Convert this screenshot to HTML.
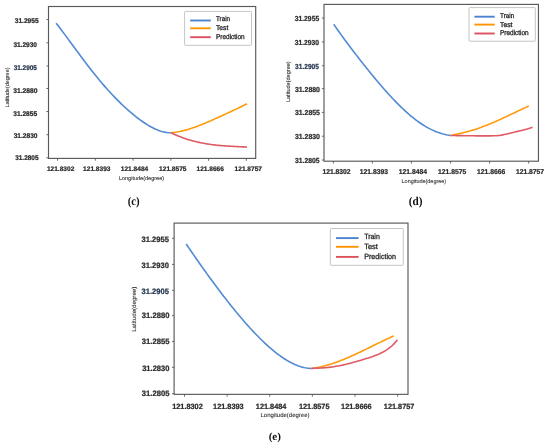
<!DOCTYPE html>
<html><head><meta charset="utf-8"><title>Trajectory prediction plots</title>
<style>
html,body{margin:0;padding:0;background:#fff;}
body{width:550px;height:446px;overflow:hidden;}
svg{display:block;}
svg text{font-family:"Liberation Sans", Arial, sans-serif;text-rendering:geometricPrecision;}
</style></head>
<body>
<svg width="550" height="446" viewBox="0 0 550 446">
<rect width="550" height="446" fill="#fff"/>
<rect x="48.5" y="6.5" width="207.20" height="151.90" fill="none" stroke="#595959" stroke-width="1.15"/>
<line x1="46.40" y1="19.5" x2="48.5" y2="19.5" stroke="#595959" stroke-width="0.9"/>
<line x1="46.40" y1="42.8" x2="48.5" y2="42.8" stroke="#595959" stroke-width="0.9"/>
<line x1="46.40" y1="66.0" x2="48.5" y2="66.0" stroke="#595959" stroke-width="0.9"/>
<line x1="46.40" y1="88.5" x2="48.5" y2="88.5" stroke="#595959" stroke-width="0.9"/>
<line x1="46.40" y1="111.5" x2="48.5" y2="111.5" stroke="#595959" stroke-width="0.9"/>
<line x1="46.40" y1="134.7" x2="48.5" y2="134.7" stroke="#595959" stroke-width="0.9"/>
<line x1="46.40" y1="157.8" x2="48.5" y2="157.8" stroke="#595959" stroke-width="0.9"/>
<line x1="57.60" y1="158.4" x2="57.60" y2="160.70" stroke="#595959" stroke-width="0.9"/>
<line x1="95.35" y1="158.4" x2="95.35" y2="160.70" stroke="#595959" stroke-width="0.9"/>
<line x1="133.10" y1="158.4" x2="133.10" y2="160.70" stroke="#595959" stroke-width="0.9"/>
<line x1="170.85" y1="158.4" x2="170.85" y2="160.70" stroke="#595959" stroke-width="0.9"/>
<line x1="208.60" y1="158.4" x2="208.60" y2="160.70" stroke="#595959" stroke-width="0.9"/>
<line x1="246.35" y1="158.4" x2="246.35" y2="160.70" stroke="#595959" stroke-width="0.9"/>
<text x="14.70" y="23.23" font-size="6.8" font-weight="bold" fill="#2b2b2b" stroke="#2b2b2b" stroke-width="0.24" textLength="24.00" lengthAdjust="spacingAndGlyphs">31.2955</text>
<text x="13.40" y="46.93" font-size="6.8" font-weight="bold" fill="#2b2b2b" stroke="#2b2b2b" stroke-width="0.24" textLength="23.50" lengthAdjust="spacingAndGlyphs">31.2930</text>
<text x="13.70" y="69.63" font-size="6.8" font-weight="bold" fill="#24364f" stroke="#24364f" stroke-width="0.24" textLength="23.20" lengthAdjust="spacingAndGlyphs">31.2905</text>
<text x="13.30" y="92.93" font-size="6.8" font-weight="bold" fill="#2b2b2b" stroke="#2b2b2b" stroke-width="0.24" textLength="24.20" lengthAdjust="spacingAndGlyphs">31.2880</text>
<text x="13.30" y="115.53" font-size="6.8" font-weight="bold" fill="#2b2b2b" stroke="#2b2b2b" stroke-width="0.24" textLength="23.80" lengthAdjust="spacingAndGlyphs">31.2855</text>
<text x="13.70" y="138.03" font-size="6.8" font-weight="bold" fill="#2b2b2b" stroke="#2b2b2b" stroke-width="0.24" textLength="23.80" lengthAdjust="spacingAndGlyphs">31.2830</text>
<text x="15.20" y="160.03" font-size="6.8" font-weight="bold" fill="#2b2b2b" stroke="#2b2b2b" stroke-width="0.24" textLength="23.30" lengthAdjust="spacingAndGlyphs">31.2805</text>
<text x="46.90" y="171.26" font-size="6.6" font-weight="bold" fill="#2b2b2b" stroke="#2b2b2b" stroke-width="0.24" textLength="27.4" lengthAdjust="spacingAndGlyphs">121.8302</text>
<text x="83.10" y="171.26" font-size="6.6" font-weight="bold" fill="#2b2b2b" stroke="#2b2b2b" stroke-width="0.24" textLength="27.4" lengthAdjust="spacingAndGlyphs">121.8393</text>
<text x="120.80" y="171.26" font-size="6.6" font-weight="bold" fill="#2b2b2b" stroke="#2b2b2b" stroke-width="0.24" textLength="27.4" lengthAdjust="spacingAndGlyphs">121.8484</text>
<text x="159.10" y="171.26" font-size="6.6" font-weight="bold" fill="#2b2b2b" stroke="#2b2b2b" stroke-width="0.24" textLength="27.4" lengthAdjust="spacingAndGlyphs">121.8575</text>
<text x="196.50" y="171.26" font-size="6.6" font-weight="bold" fill="#2b2b2b" stroke="#2b2b2b" stroke-width="0.24" textLength="27.4" lengthAdjust="spacingAndGlyphs">121.8666</text>
<text x="234.60" y="171.26" font-size="6.6" font-weight="bold" fill="#2b2b2b" stroke="#2b2b2b" stroke-width="0.24" textLength="27.4" lengthAdjust="spacingAndGlyphs">121.8757</text>
<text x="118.9" y="179.9" font-size="5.4" fill="#333" stroke="#333" stroke-width="0.1" textLength="45.20" lengthAdjust="spacingAndGlyphs">Longitude(degree)</text>
<text x="0" y="0" transform="translate(8.8,107.5) rotate(-90)" font-size="5.4" fill="#333" stroke="#333" stroke-width="0.1" textLength="40.00" lengthAdjust="spacingAndGlyphs">Latitude(degree)</text>
<path d="M56.10,23.25 L57.59,25.12 L59.07,27.02 L60.56,28.95 L62.05,30.90 L63.54,32.88 L65.02,34.87 L66.51,36.87 L68.00,38.89 L69.48,40.91 L70.97,42.94 L72.46,44.97 L73.94,47.00 L75.43,49.03 L76.92,51.06 L78.41,53.07 L79.89,55.08 L81.38,57.09 L82.87,59.07 L84.35,61.05 L85.84,63.01 L87.33,64.96 L88.81,66.89 L90.30,68.81 L91.79,70.70 L93.28,72.58 L94.76,74.44 L96.25,76.28 L97.74,78.09 L99.22,79.89 L100.71,81.66 L102.20,83.41 L103.68,85.14 L105.17,86.85 L106.66,88.54 L108.15,90.20 L109.63,91.83 L111.12,93.45 L112.61,95.04 L114.09,96.61 L115.58,98.15 L117.07,99.67 L118.55,101.16 L120.04,102.63 L121.53,104.08 L123.02,105.50 L124.50,106.89 L125.99,108.26 L127.48,109.61 L128.96,110.93 L130.45,112.22 L131.94,113.48 L133.42,114.72 L134.91,115.92 L136.40,117.10 L137.89,118.25 L139.37,119.37 L140.86,120.45 L142.35,121.50 L143.83,122.52 L145.32,123.50 L146.81,124.45 L148.29,125.35 L149.78,126.21 L151.27,127.04 L152.76,127.81 L154.24,128.54 L155.73,129.23 L157.22,129.86 L158.70,130.43 L160.19,130.95 L161.68,131.41 L163.16,131.80 L164.65,132.13 L166.14,132.39 L167.63,132.57 L169.11,132.68 L170.60,132.70" fill="none" stroke="#528ad3" stroke-width="1.6" stroke-linejoin="round"/>
<path d="M170.60,132.70 L172.10,132.60 L173.60,132.46 L175.09,132.28 L176.59,132.07 L178.09,131.82 L179.59,131.54 L181.09,131.22 L182.58,130.88 L184.08,130.51 L185.58,130.11 L187.08,129.69 L188.58,129.24 L190.07,128.77 L191.57,128.29 L193.07,127.78 L194.57,127.25 L196.07,126.71 L197.56,126.15 L199.06,125.58 L200.56,125.00 L202.06,124.40 L203.56,123.79 L205.05,123.17 L206.55,122.55 L208.05,121.91 L209.55,121.26 L211.05,120.61 L212.55,119.95 L214.04,119.29 L215.54,118.62 L217.04,117.95 L218.54,117.27 L220.04,116.59 L221.53,115.90 L223.03,115.21 L224.53,114.52 L226.03,113.83 L227.53,113.13 L229.02,112.43 L230.52,111.73 L232.02,111.02 L233.52,110.31 L235.02,109.60 L236.51,108.89 L238.01,108.18 L239.51,107.46 L241.01,106.73 L242.51,106.01 L244.00,105.28 L245.50,104.54 L247.00,103.80" fill="none" stroke="#ff9a0a" stroke-width="1.6" stroke-linejoin="round"/>
<path d="M170.60,132.60 L172.10,133.30 L173.60,133.99 L175.09,134.65 L176.59,135.29 L178.09,135.90 L179.59,136.50 L181.09,137.08 L182.58,137.63 L184.08,138.17 L185.58,138.68 L187.08,139.17 L188.58,139.64 L190.07,140.10 L191.57,140.53 L193.07,140.94 L194.57,141.33 L196.07,141.71 L197.56,142.07 L199.06,142.40 L200.56,142.72 L202.06,143.03 L203.56,143.31 L205.05,143.58 L206.55,143.84 L208.05,144.08 L209.55,144.30 L211.05,144.51 L212.55,144.71 L214.04,144.89 L215.54,145.06 L217.04,145.22 L218.54,145.37 L220.04,145.50 L221.53,145.63 L223.03,145.75 L224.53,145.86 L226.03,145.96 L227.53,146.06 L229.02,146.15 L230.52,146.23 L232.02,146.31 L233.52,146.39 L235.02,146.46 L236.51,146.54 L238.01,146.61 L239.51,146.68 L241.01,146.76 L242.51,146.84 L244.00,146.92 L245.50,147.01 L247.00,147.10" fill="none" stroke="#e05a64" stroke-width="1.6" stroke-linejoin="round"/>
<rect x="184.6" y="11.4" width="66.90" height="33.90" rx="0.8" fill="#fff" stroke="#bdbdbd" stroke-width="0.9"/>
<line x1="190.2" y1="20.5" x2="210.8" y2="20.5" stroke="#4b83cd" stroke-width="1.9"/>
<text x="216.0" y="20.70" font-size="7.0" fill="#1e1e1e" stroke="#1e1e1e" stroke-width="0.28" textLength="14.0" lengthAdjust="spacingAndGlyphs">Train</text>
<line x1="190.2" y1="28.3" x2="210.8" y2="28.3" stroke="#ff9500" stroke-width="1.9"/>
<text x="216.0" y="29.80" font-size="7.0" fill="#1e1e1e" stroke="#1e1e1e" stroke-width="0.28" textLength="12.3" lengthAdjust="spacingAndGlyphs">Test</text>
<line x1="190.2" y1="37.2" x2="210.8" y2="37.2" stroke="#dc515d" stroke-width="1.9"/>
<text x="216.0" y="38.90" font-size="7.0" fill="#1e1e1e" stroke="#1e1e1e" stroke-width="0.28" textLength="28.7" lengthAdjust="spacingAndGlyphs">Prediction</text>
<text x="127.7" y="205.1" style='font-family:"Liberation Serif", "DejaVu Serif", serif' font-size="12.0" font-weight="bold" fill="#111" textLength="12.00" lengthAdjust="spacingAndGlyphs">(c)</text>
<rect x="324.0" y="4.4" width="214.45" height="156.80" fill="none" stroke="#595959" stroke-width="1.15"/>
<line x1="321.90" y1="18.1" x2="324.0" y2="18.1" stroke="#595959" stroke-width="0.9"/>
<line x1="321.90" y1="41.9" x2="324.0" y2="41.9" stroke="#595959" stroke-width="0.9"/>
<line x1="321.90" y1="65.8" x2="324.0" y2="65.8" stroke="#595959" stroke-width="0.9"/>
<line x1="321.90" y1="88.6" x2="324.0" y2="88.6" stroke="#595959" stroke-width="0.9"/>
<line x1="321.90" y1="112.4" x2="324.0" y2="112.4" stroke="#595959" stroke-width="0.9"/>
<line x1="321.90" y1="136.2" x2="324.0" y2="136.2" stroke="#595959" stroke-width="0.9"/>
<line x1="321.90" y1="160.0" x2="324.0" y2="160.0" stroke="#595959" stroke-width="0.9"/>
<line x1="333.30" y1="161.2" x2="333.30" y2="163.50" stroke="#595959" stroke-width="0.9"/>
<line x1="372.38" y1="161.2" x2="372.38" y2="163.50" stroke="#595959" stroke-width="0.9"/>
<line x1="411.46" y1="161.2" x2="411.46" y2="163.50" stroke="#595959" stroke-width="0.9"/>
<line x1="450.54" y1="161.2" x2="450.54" y2="163.50" stroke="#595959" stroke-width="0.9"/>
<line x1="489.62" y1="161.2" x2="489.62" y2="163.50" stroke="#595959" stroke-width="0.9"/>
<line x1="528.70" y1="161.2" x2="528.70" y2="163.50" stroke="#595959" stroke-width="0.9"/>
<text x="294.70" y="21.41" font-size="7.3" font-weight="bold" fill="#2b2b2b" stroke="#2b2b2b" stroke-width="0.24" textLength="24.50" lengthAdjust="spacingAndGlyphs">31.2955</text>
<text x="294.70" y="45.21" font-size="7.3" font-weight="bold" fill="#2b2b2b" stroke="#2b2b2b" stroke-width="0.24" textLength="24.20" lengthAdjust="spacingAndGlyphs">31.2930</text>
<text x="295.10" y="68.91" font-size="7.3" font-weight="bold" fill="#24364f" stroke="#24364f" stroke-width="0.24" textLength="23.80" lengthAdjust="spacingAndGlyphs">31.2905</text>
<text x="294.90" y="91.51" font-size="7.3" font-weight="bold" fill="#2b2b2b" stroke="#2b2b2b" stroke-width="0.24" textLength="25.10" lengthAdjust="spacingAndGlyphs">31.2880</text>
<text x="294.90" y="115.21" font-size="7.3" font-weight="bold" fill="#2b2b2b" stroke="#2b2b2b" stroke-width="0.24" textLength="25.10" lengthAdjust="spacingAndGlyphs">31.2855</text>
<text x="294.90" y="139.31" font-size="7.3" font-weight="bold" fill="#2b2b2b" stroke="#2b2b2b" stroke-width="0.24" textLength="25.10" lengthAdjust="spacingAndGlyphs">31.2830</text>
<text x="294.90" y="163.01" font-size="7.3" font-weight="bold" fill="#2b2b2b" stroke="#2b2b2b" stroke-width="0.24" textLength="24.70" lengthAdjust="spacingAndGlyphs">31.2805</text>
<text x="322.40" y="174.14" font-size="7.1" font-weight="bold" fill="#2b2b2b" stroke="#2b2b2b" stroke-width="0.24" textLength="28.2" lengthAdjust="spacingAndGlyphs">121.8302</text>
<text x="359.80" y="174.14" font-size="7.1" font-weight="bold" fill="#2b2b2b" stroke="#2b2b2b" stroke-width="0.24" textLength="28.2" lengthAdjust="spacingAndGlyphs">121.8393</text>
<text x="398.80" y="174.14" font-size="7.1" font-weight="bold" fill="#2b2b2b" stroke="#2b2b2b" stroke-width="0.24" textLength="28.2" lengthAdjust="spacingAndGlyphs">121.8484</text>
<text x="438.10" y="174.14" font-size="7.1" font-weight="bold" fill="#2b2b2b" stroke="#2b2b2b" stroke-width="0.24" textLength="28.2" lengthAdjust="spacingAndGlyphs">121.8575</text>
<text x="477.00" y="174.14" font-size="7.1" font-weight="bold" fill="#2b2b2b" stroke="#2b2b2b" stroke-width="0.24" textLength="28.2" lengthAdjust="spacingAndGlyphs">121.8666</text>
<text x="515.90" y="174.14" font-size="7.1" font-weight="bold" fill="#2b2b2b" stroke="#2b2b2b" stroke-width="0.24" textLength="28.2" lengthAdjust="spacingAndGlyphs">121.8757</text>
<text x="401.6" y="182.9" font-size="5.5" fill="#333" stroke="#333" stroke-width="0.1" textLength="44.50" lengthAdjust="spacingAndGlyphs">Longitude(degree)</text>
<text x="0" y="0" transform="translate(290.1,102.1) rotate(-90)" font-size="5.5" fill="#333" stroke="#333" stroke-width="0.1" textLength="40.80" lengthAdjust="spacingAndGlyphs">Latitude(degree)</text>
<path d="M333.70,24.20 L335.20,26.38 L336.69,28.54 L338.19,30.67 L339.69,32.78 L341.19,34.87 L342.68,36.94 L344.18,38.99 L345.68,41.03 L347.18,43.05 L348.67,45.05 L350.17,47.04 L351.67,49.02 L353.17,50.98 L354.66,52.94 L356.16,54.88 L357.66,56.81 L359.16,58.73 L360.65,60.65 L362.15,62.55 L363.65,64.44 L365.15,66.32 L366.64,68.19 L368.14,70.04 L369.64,71.89 L371.14,73.73 L372.63,75.55 L374.13,77.37 L375.63,79.16 L377.13,80.95 L378.62,82.72 L380.12,84.48 L381.62,86.22 L383.12,87.95 L384.61,89.66 L386.11,91.35 L387.61,93.03 L389.11,94.68 L390.60,96.31 L392.10,97.93 L393.60,99.52 L395.09,101.08 L396.59,102.63 L398.09,104.14 L399.59,105.64 L401.08,107.10 L402.58,108.54 L404.08,109.95 L405.58,111.32 L407.07,112.67 L408.57,113.99 L410.07,115.27 L411.57,116.52 L413.06,117.74 L414.56,118.92 L416.06,120.06 L417.56,121.17 L419.05,122.24 L420.55,123.27 L422.05,124.27 L423.55,125.22 L425.04,126.14 L426.54,127.01 L428.04,127.85 L429.54,128.64 L431.03,129.40 L432.53,130.11 L434.03,130.78 L435.53,131.41 L437.02,132.00 L438.52,132.55 L440.02,133.05 L441.52,133.52 L443.01,133.95 L444.51,134.33 L446.01,134.68 L447.51,134.99 L449.00,135.26 L450.50,135.50" fill="none" stroke="#528ad3" stroke-width="1.6" stroke-linejoin="round"/>
<path d="M450.50,135.50 L451.98,135.21 L453.45,134.92 L454.93,134.62 L456.41,134.30 L457.89,133.98 L459.36,133.65 L460.84,133.30 L462.32,132.95 L463.80,132.58 L465.27,132.20 L466.75,131.81 L468.23,131.41 L469.71,130.99 L471.18,130.56 L472.66,130.11 L474.14,129.66 L475.62,129.18 L477.09,128.70 L478.57,128.20 L480.05,127.69 L481.52,127.16 L483.00,126.62 L484.48,126.07 L485.96,125.50 L487.43,124.92 L488.91,124.33 L490.39,123.73 L491.87,123.11 L493.34,122.49 L494.82,121.85 L496.30,121.21 L497.78,120.55 L499.25,119.89 L500.73,119.21 L502.21,118.53 L503.68,117.85 L505.16,117.15 L506.64,116.45 L508.12,115.75 L509.59,115.05 L511.07,114.34 L512.55,113.63 L514.03,112.92 L515.50,112.22 L516.98,111.51 L518.46,110.81 L519.94,110.11 L521.41,109.42 L522.89,108.74 L524.37,108.06 L525.85,107.39 L527.32,106.74 L528.80,106.10" fill="none" stroke="#ff9a0a" stroke-width="1.6" stroke-linejoin="round"/>
<path d="M450.50,135.50 L451.99,135.52 L453.49,135.54 L454.98,135.56 L456.47,135.58 L457.96,135.60 L459.46,135.62 L460.95,135.64 L462.44,135.66 L463.93,135.68 L465.43,135.70 L466.92,135.71 L468.41,135.73 L469.91,135.75 L471.40,135.77 L472.89,135.79 L474.38,135.81 L475.88,135.83 L477.37,135.84 L478.86,135.86 L480.35,135.88 L481.85,135.89 L483.34,135.90 L484.83,135.90 L486.33,135.90 L487.82,135.89 L489.31,135.87 L490.80,135.85 L492.30,135.82 L493.79,135.78 L495.28,135.74 L496.77,135.66 L498.27,135.53 L499.76,135.38 L501.25,135.17 L502.75,134.88 L504.24,134.56 L505.73,134.24 L507.22,133.91 L508.72,133.55 L510.21,133.19 L511.70,132.81 L513.19,132.44 L514.69,132.08 L516.18,131.72 L517.67,131.37 L519.17,131.03 L520.66,130.68 L522.15,130.33 L523.64,129.96 L525.14,129.56 L526.63,129.15 L528.12,128.71 L529.61,128.26 L531.11,127.79 L532.60,127.30" fill="none" stroke="#e05a64" stroke-width="1.6" stroke-linejoin="round"/>
<rect x="469.0" y="7.6" width="66.30" height="33.60" rx="0.8" fill="#fff" stroke="#bdbdbd" stroke-width="0.9"/>
<line x1="474.4" y1="16.7" x2="494.7" y2="16.7" stroke="#4b83cd" stroke-width="1.9"/>
<text x="500.0" y="17.50" font-size="7.1" fill="#1e1e1e" stroke="#1e1e1e" stroke-width="0.28" textLength="14.2" lengthAdjust="spacingAndGlyphs">Train</text>
<line x1="474.4" y1="24.6" x2="494.7" y2="24.6" stroke="#ff9500" stroke-width="1.9"/>
<text x="500.0" y="26.50" font-size="7.1" fill="#1e1e1e" stroke="#1e1e1e" stroke-width="0.28" textLength="12.4" lengthAdjust="spacingAndGlyphs">Test</text>
<line x1="474.4" y1="33.5" x2="494.7" y2="33.5" stroke="#dc515d" stroke-width="1.9"/>
<text x="500.0" y="35.30" font-size="7.1" fill="#1e1e1e" stroke="#1e1e1e" stroke-width="0.28" textLength="28.7" lengthAdjust="spacingAndGlyphs">Prediction</text>
<text x="408.8" y="205.3" style='font-family:"Liberation Serif", "DejaVu Serif", serif' font-size="12.0" font-weight="bold" fill="#111" textLength="13.70" lengthAdjust="spacingAndGlyphs">(d)</text>
<rect x="174.1" y="223.1" width="233.90" height="171.25" fill="none" stroke="#595959" stroke-width="1.15"/>
<line x1="172.00" y1="238.3" x2="174.1" y2="238.3" stroke="#595959" stroke-width="0.9"/>
<line x1="172.00" y1="264.4" x2="174.1" y2="264.4" stroke="#595959" stroke-width="0.9"/>
<line x1="172.00" y1="290.3" x2="174.1" y2="290.3" stroke="#595959" stroke-width="0.9"/>
<line x1="172.00" y1="315.7" x2="174.1" y2="315.7" stroke="#595959" stroke-width="0.9"/>
<line x1="172.00" y1="341.5" x2="174.1" y2="341.5" stroke="#595959" stroke-width="0.9"/>
<line x1="172.00" y1="367.3" x2="174.1" y2="367.3" stroke="#595959" stroke-width="0.9"/>
<line x1="172.00" y1="393.7" x2="174.1" y2="393.7" stroke="#595959" stroke-width="0.9"/>
<line x1="184.50" y1="394.35" x2="184.50" y2="396.65" stroke="#595959" stroke-width="0.9"/>
<line x1="227.12" y1="394.35" x2="227.12" y2="396.65" stroke="#595959" stroke-width="0.9"/>
<line x1="269.74" y1="394.35" x2="269.74" y2="396.65" stroke="#595959" stroke-width="0.9"/>
<line x1="312.36" y1="394.35" x2="312.36" y2="396.65" stroke="#595959" stroke-width="0.9"/>
<line x1="354.98" y1="394.35" x2="354.98" y2="396.65" stroke="#595959" stroke-width="0.9"/>
<line x1="397.60" y1="394.35" x2="397.60" y2="396.65" stroke="#595959" stroke-width="0.9"/>
<text x="141.60" y="241.69" font-size="7.8" font-weight="bold" fill="#2b2b2b" stroke="#2b2b2b" stroke-width="0.24" textLength="27.30" lengthAdjust="spacingAndGlyphs">31.2955</text>
<text x="141.60" y="268.29" font-size="7.8" font-weight="bold" fill="#2b2b2b" stroke="#2b2b2b" stroke-width="0.24" textLength="27.30" lengthAdjust="spacingAndGlyphs">31.2930</text>
<text x="141.60" y="294.19" font-size="7.8" font-weight="bold" fill="#24364f" stroke="#24364f" stroke-width="0.24" textLength="27.30" lengthAdjust="spacingAndGlyphs">31.2905</text>
<text x="141.80" y="317.99" font-size="7.8" font-weight="bold" fill="#2b2b2b" stroke="#2b2b2b" stroke-width="0.24" textLength="27.60" lengthAdjust="spacingAndGlyphs">31.2880</text>
<text x="141.80" y="344.29" font-size="7.8" font-weight="bold" fill="#2b2b2b" stroke="#2b2b2b" stroke-width="0.24" textLength="27.60" lengthAdjust="spacingAndGlyphs">31.2855</text>
<text x="142.20" y="370.89" font-size="7.8" font-weight="bold" fill="#2b2b2b" stroke="#2b2b2b" stroke-width="0.24" textLength="27.20" lengthAdjust="spacingAndGlyphs">31.2830</text>
<text x="141.80" y="395.79" font-size="7.8" font-weight="bold" fill="#2b2b2b" stroke="#2b2b2b" stroke-width="0.24" textLength="27.60" lengthAdjust="spacingAndGlyphs">31.2805</text>
<text x="172.20" y="408.62" font-size="7.6" font-weight="bold" fill="#2b2b2b" stroke="#2b2b2b" stroke-width="0.24" textLength="30.6" lengthAdjust="spacingAndGlyphs">121.8302</text>
<text x="213.10" y="408.62" font-size="7.6" font-weight="bold" fill="#2b2b2b" stroke="#2b2b2b" stroke-width="0.24" textLength="30.6" lengthAdjust="spacingAndGlyphs">121.8393</text>
<text x="255.80" y="408.62" font-size="7.6" font-weight="bold" fill="#2b2b2b" stroke="#2b2b2b" stroke-width="0.24" textLength="30.6" lengthAdjust="spacingAndGlyphs">121.8484</text>
<text x="298.90" y="408.62" font-size="7.6" font-weight="bold" fill="#2b2b2b" stroke="#2b2b2b" stroke-width="0.24" textLength="30.6" lengthAdjust="spacingAndGlyphs">121.8575</text>
<text x="341.10" y="408.62" font-size="7.6" font-weight="bold" fill="#2b2b2b" stroke="#2b2b2b" stroke-width="0.24" textLength="30.6" lengthAdjust="spacingAndGlyphs">121.8666</text>
<text x="383.80" y="408.62" font-size="7.6" font-weight="bold" fill="#2b2b2b" stroke="#2b2b2b" stroke-width="0.24" textLength="30.6" lengthAdjust="spacingAndGlyphs">121.8757</text>
<text x="260.5" y="416.5" font-size="5.9" fill="#333" stroke="#333" stroke-width="0.1" textLength="49.00" lengthAdjust="spacingAndGlyphs">Longitude(degree)</text>
<text x="0" y="0" transform="translate(135.6,331.8) rotate(-90)" font-size="5.9" fill="#333" stroke="#333" stroke-width="0.1" textLength="45.10" lengthAdjust="spacingAndGlyphs">Latitude(degree)</text>
<path d="M186.20,244.00 L187.69,246.20 L189.18,248.39 L190.66,250.57 L192.15,252.74 L193.64,254.90 L195.13,257.05 L196.62,259.19 L198.10,261.32 L199.59,263.45 L201.08,265.56 L202.57,267.66 L204.06,269.75 L205.55,271.83 L207.03,273.90 L208.52,275.95 L210.01,278.00 L211.50,280.04 L212.99,282.06 L214.47,284.07 L215.96,286.07 L217.45,288.06 L218.94,290.04 L220.43,292.00 L221.91,293.96 L223.40,295.89 L224.89,297.82 L226.38,299.73 L227.87,301.63 L229.35,303.51 L230.84,305.38 L232.33,307.24 L233.82,309.07 L235.31,310.90 L236.80,312.70 L238.28,314.50 L239.77,316.27 L241.26,318.03 L242.75,319.76 L244.24,321.48 L245.72,323.19 L247.21,324.87 L248.70,326.53 L250.19,328.17 L251.68,329.79 L253.16,331.39 L254.65,332.97 L256.14,334.53 L257.63,336.06 L259.12,337.56 L260.60,339.05 L262.09,340.50 L263.58,341.93 L265.07,343.34 L266.56,344.71 L268.05,346.06 L269.53,347.38 L271.02,348.67 L272.51,349.93 L274.00,351.15 L275.49,352.35 L276.97,353.51 L278.46,354.63 L279.95,355.72 L281.44,356.78 L282.93,357.79 L284.41,358.77 L285.90,359.71 L287.39,360.61 L288.88,361.46 L290.37,362.28 L291.85,363.05 L293.34,363.77 L294.83,364.45 L296.32,365.08 L297.81,365.66 L299.30,366.20 L300.78,366.68 L302.27,367.11 L303.76,367.48 L305.25,367.80 L306.74,368.07 L308.22,368.27 L309.71,368.42 L311.20,368.50" fill="none" stroke="#528ad3" stroke-width="1.6" stroke-linejoin="round"/>
<path d="M311.20,368.50 L312.67,368.31 L314.15,368.09 L315.62,367.85 L317.09,367.58 L318.57,367.30 L320.04,366.98 L321.51,366.65 L322.99,366.29 L324.46,365.92 L325.93,365.52 L327.41,365.10 L328.88,364.67 L330.35,364.21 L331.82,363.74 L333.30,363.25 L334.77,362.75 L336.24,362.22 L337.72,361.69 L339.19,361.14 L340.66,360.57 L342.14,359.99 L343.61,359.40 L345.08,358.79 L346.56,358.17 L348.03,357.54 L349.50,356.91 L350.98,356.26 L352.45,355.60 L353.92,354.93 L355.40,354.26 L356.87,353.58 L358.34,352.89 L359.82,352.19 L361.29,351.49 L362.76,350.78 L364.24,350.07 L365.71,349.36 L367.18,348.64 L368.66,347.92 L370.13,347.20 L371.60,346.48 L373.07,345.76 L374.55,345.03 L376.02,344.31 L377.49,343.59 L378.97,342.87 L380.44,342.15 L381.91,341.44 L383.39,340.72 L384.86,340.02 L386.33,339.32 L387.81,338.62 L389.28,337.93 L390.75,337.24 L392.23,336.57 L393.70,335.90" fill="none" stroke="#ff9a0a" stroke-width="1.6" stroke-linejoin="round"/>
<path d="M311.20,368.50 L312.69,368.39 L314.17,368.30 L315.66,368.22 L317.14,368.15 L318.63,368.08 L320.12,368.01 L321.60,367.93 L323.09,367.84 L324.58,367.73 L326.06,367.62 L327.55,367.48 L329.03,367.33 L330.52,367.16 L332.01,366.97 L333.49,366.76 L334.98,366.53 L336.47,366.28 L337.95,366.02 L339.44,365.73 L340.92,365.43 L342.41,365.11 L343.90,364.77 L345.38,364.42 L346.87,364.06 L348.36,363.68 L349.84,363.30 L351.33,362.91 L352.81,362.50 L354.30,362.09 L355.79,361.68 L357.27,361.26 L358.76,360.83 L360.24,360.40 L361.73,359.96 L363.22,359.52 L364.70,359.07 L366.19,358.61 L367.68,358.14 L369.16,357.67 L370.65,357.18 L372.13,356.67 L373.62,356.15 L375.11,355.60 L376.59,355.02 L378.08,354.41 L379.57,353.76 L381.05,353.07 L382.54,352.32 L384.02,351.52 L385.51,350.64 L387.00,349.68 L388.48,348.64 L389.97,347.49 L391.46,346.24 L392.94,344.85 L394.43,343.33 L395.91,341.65 L397.40,339.80" fill="none" stroke="#e05a64" stroke-width="1.6" stroke-linejoin="round"/>
<rect x="330.3" y="228.5" width="73.00" height="36.80" rx="0.8" fill="#fff" stroke="#bdbdbd" stroke-width="0.9"/>
<line x1="336.0" y1="238.1" x2="358.6" y2="238.1" stroke="#4b83cd" stroke-width="1.9"/>
<text x="364.2" y="239.00" font-size="7.6" fill="#1e1e1e" stroke="#1e1e1e" stroke-width="0.28" textLength="15.6" lengthAdjust="spacingAndGlyphs">Train</text>
<line x1="336.0" y1="246.8" x2="358.6" y2="246.8" stroke="#ff9500" stroke-width="1.9"/>
<text x="364.2" y="248.80" font-size="7.6" fill="#1e1e1e" stroke="#1e1e1e" stroke-width="0.28" textLength="13.7" lengthAdjust="spacingAndGlyphs">Test</text>
<line x1="336.0" y1="256.9" x2="358.6" y2="256.9" stroke="#dc515d" stroke-width="1.9"/>
<text x="364.2" y="258.70" font-size="7.6" fill="#1e1e1e" stroke="#1e1e1e" stroke-width="0.28" textLength="31.8" lengthAdjust="spacingAndGlyphs">Prediction</text>
<text x="268.7" y="440.2" style='font-family:"Liberation Serif", "DejaVu Serif", serif' font-size="11.0" font-weight="bold" fill="#111" textLength="12.30" lengthAdjust="spacingAndGlyphs">(e)</text>
</svg>
</body></html>
